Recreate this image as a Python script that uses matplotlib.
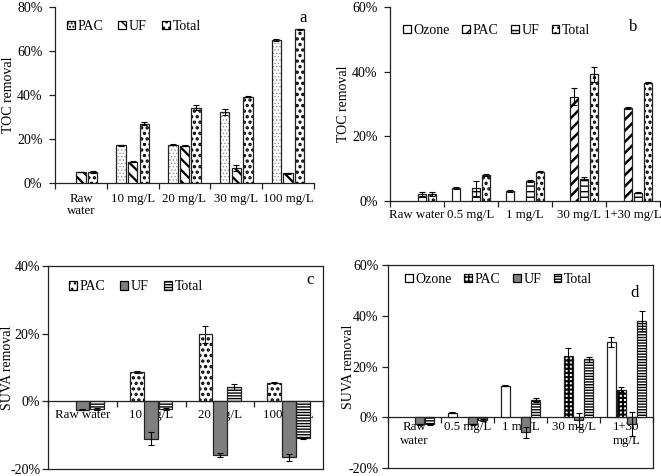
import numpy as np
import matplotlib
matplotlib.use('Agg')
import matplotlib.pyplot as plt
import matplotlib.patches as mpatches
from matplotlib.lines import Line2D
from matplotlib.ticker import FuncFormatter

nan = np.nan
plt.rcParams['font.family'] = ['Liberation Serif', 'DejaVu Serif']
plt.rcParams['font.size'] = 9.5

# ---------------- data ----------------
# Panel a: TOC removal, PAC dose
cats_a = ['Raw\nwater', '10 mg/L', '20 mg/L', '30 mg/L', '100 mg/L']
pac_a = [nan, 17.2, 17.5, 32.2, 65.0]
uf_a = [5.0, 9.7, 16.9, 6.8, 4.4]
tot_a = [5.0, 27.0, 34.3, 39.2, 69.8]
pac_a_err = [nan, 0.3, 0.3, 1.3, 0.3]
uf_a_err = [0.2, 0.2, 0.3, 1.3, 0.2]
tot_a_err = [0.3, 0.6, 1.0, 0.3, 0.3]

# Panel b: TOC removal, ozone dose
cats_b = ['Raw water', '0.5 mg/L', '1 mg/L', '30 mg/L', '1+30 mg/L']
ozone_b = [nan, 4.0, 2.9, nan, nan]
pac_b = [nan, nan, nan, 32.2, 28.6]
uf_b = [2.0, 3.8, 6.0, 6.8, 2.5]
tot_b = [2.0, 8.0, 9.0, 39.2, 36.6]
ozone_b_err = [nan, 0.3, 0.3, nan, nan]
pac_b_err = [nan, nan, nan, 2.6, 0.3]
uf_b_err = [0.6, 2.4, 0.3, 0.5, 0.2]
tot_b_err = [0.6, 0.3, 0.2, 2.3, 0.2]

# Panel c: SUVA removal, PAC dose
cats_c = ['Raw water', '10 mg/L', '20 mg/L', '100 mg/L']
pac_c = [nan, 8.7, 19.8, 5.5]
uf_c = [-2.5, -11.1, -15.8, -16.6]
tot_c = [-2.3, -2.2, 4.2, -10.9]
pac_c_err = [nan, 0.4, 2.6, 0.2]
uf_c_err = [0.2, 1.9, 0.6, 1.0]
tot_c_err = [0.4, 0.3, 0.8, 0.2]

# Panel d: SUVA removal, ozone dose
cats_d = ['Raw\nwater', '0.5 mg/L', '1 mg/L', '30 mg/L', '1+30\nmg/L']
ozone_d = [nan, 1.8, 12.5, nan, 29.5]
pac_d = [nan, nan, nan, 24.1, 10.9]
uf_d = [-2.8, -2.7, -6.0, -1.2, -2.6]
tot_d = [-2.8, -1.0, 6.8, 22.9, 37.8]
ozone_d_err = [nan, 0.2, 0.3, nan, 2.0]
pac_d_err = [nan, nan, nan, 3.3, 1.0]
uf_d_err = [0.2, 0.2, 2.0, 2.8, 4.6]
tot_d_err = [0.2, 0.4, 0.8, 1.0, 3.9]

# ---------------- styles ----------------
ST = {
    'fine_dots': dict(face='white', hatch='.....', hc='#8a8a8a', hlw=0.5),
    'diag_back': dict(face='white', hatch='\\\\\\', hc='black', hlw=1.6),
    'diag_fwd': dict(face='white', hatch='///', hc='black', hlw=1.8),
    'big_dots': dict(face='white', hatch='...', hc='black', hlw=1.6),
    'sparse_dots': dict(face='white', hatch='.', hc='black', hlw=0.5),
    'hlines': dict(face='white', hatch='---', hc='black', hlw=1.0),
    'hlines_dense': dict(face='white', hatch='------', hc='black', hlw=1.0),
    'gray': dict(face='#7f7f7f', hatch=None, hc='#7f7f7f', hlw=1.0),
    'white': dict(face='white', hatch=None, hc='white', hlw=1.0),
    'checker': dict(face='white', hatch='++++', hc='black', hlw=1.5),
}

EDGE = '#222222'


def draw_bars(ax, x, vals, errs, st, w, z=3):
    vals = np.asarray(vals, float)
    errs = np.asarray(errs, float)
    with plt.rc_context({'hatch.linewidth': st['hlw']}):
        b = ax.bar(x, vals, w, color=st['face'], edgecolor=st['hc'],
                   linewidth=0, hatch=st['hatch'], zorder=z)
    for p in b:
        if hasattr(p, 'set_hatch_linewidth'):
            p.set_hatch_linewidth(st['hlw'])
    ax.bar(x, vals, w, fill=False, edgecolor=EDGE, linewidth=0.9, zorder=z + 0.1)
    ax.errorbar(x, vals, yerr=errs, fmt='none', ecolor='black', elinewidth=0.8,
                capsize=2.3, capthick=0.8, zorder=z + 0.2)


def handle(st):
    with plt.rc_context({'hatch.linewidth': min(st['hlw'], 1.2)}):
        p = mpatches.Patch(facecolor=st['face'], edgecolor='black',
                           hatch=st['hatch'], linewidth=0.9)
    if hasattr(p, 'set_hatch_linewidth'):
        p.set_hatch_linewidth(min(st['hlw'], 1.2))
    return p


def pct(v, p):
    return f'{v:.0f}%'


def setup(ax, cats, ylim, yt, ylabel, framed, label_x, xpad, lsp, ypad):
    n = len(cats)
    ax.set_xlim(-0.5, n - 0.5)
    ax.set_ylim(*ylim)
    ax.set_yticks(yt)
    ax.yaxis.set_major_formatter(FuncFormatter(pct))
    ax.set_xticks(range(n))
    ax.set_xticklabels(cats, linespacing=lsp)
    ax.set_xticks(np.arange(-0.5, n, 1.0), minor=True)
    ax.tick_params(axis='x', which='major', length=0, pad=xpad, labelsize=9.3)
    ax.tick_params(axis='x', which='minor', length=4, direction='out',
                   width=0.9, color=EDGE)
    ax.tick_params(axis='y', length=4, direction='out', width=0.9, color=EDGE,
                   labelsize=10, pad=ypad)
    ax.set_ylabel(ylabel, fontsize=10)
    ax.yaxis.set_label_coords(label_x, 0.5)
    for s in ax.spines.values():
        s.set_color(EDGE)
        s.set_linewidth(0.9)
    if framed:
        ax.spines['bottom'].set_position(('data', 0))
        ax.add_line(Line2D([0, 1], [0, 0], transform=ax.transAxes, color=EDGE,
                           lw=0.9, clip_on=False))
    else:
        ax.spines['top'].set_visible(False)
        ax.spines['right'].set_visible(False)


fig = plt.figure(figsize=(6.61, 4.76), dpi=100)

# ---------------- panel a ----------------
ax = fig.add_axes([55 / 661, 1 - 183 / 476, 259 / 661, 176 / 476])
setup(ax, cats_a, (0, 80), [0, 20, 40, 60, 80], 'TOC removal', False, -0.154, 7, 1.05, 5)
x = np.arange(len(cats_a))
w, d = 0.18, 0.225
draw_bars(ax, x - d, pac_a, pac_a_err, ST['fine_dots'], w)
draw_bars(ax, x, uf_a, uf_a_err, ST['diag_back'], w)
draw_bars(ax, x + d, tot_a, tot_a_err, ST['big_dots'], w)
ax.legend([handle(ST['fine_dots']), handle(ST['diag_back']), handle(ST['big_dots'])],
          ['PAC', 'UF', 'Total'], ncol=3, frameon=False, loc='center left',
          bbox_to_anchor=(0.046, 0.89), borderpad=0, borderaxespad=0,
          handlelength=0.55, handleheight=0.55, handletextpad=0.2,
          columnspacing=1.1, fontsize=10)
ax.text(0.957, 0.94, 'a', transform=ax.transAxes, ha='center', va='center', fontsize=12)

# ---------------- panel b ----------------
ax = fig.add_axes([390 / 661, 1 - 200.7 / 476, 270 / 661, 193.7 / 476])
setup(ax, cats_b, (0, 60), [0, 20, 40, 60], 'TOC removal', False, -0.148, 6, 1.05, 5)
x = np.arange(len(cats_b))
w, s = 0.15, 0.185
draw_bars(ax, x - 1.5 * s, ozone_b, ozone_b_err, ST['sparse_dots'], w)
draw_bars(ax, x - 0.5 * s, pac_b, pac_b_err, ST['diag_fwd'], w)
draw_bars(ax, x + 0.5 * s, uf_b, uf_b_err, ST['hlines'], w)
draw_bars(ax, x + 1.5 * s, tot_b, tot_b_err, ST['big_dots'], w)
ax.legend([handle(ST['white']), handle(ST['diag_fwd']), handle(ST['hlines']), handle(ST['big_dots'])],
          ['Ozone', 'PAC', 'UF', 'Total'], ncol=4, frameon=False, loc='center left',
          bbox_to_anchor=(0.048, 0.88), borderpad=0, borderaxespad=0,
          handlelength=0.55, handleheight=0.55, handletextpad=0.2,
          columnspacing=0.9, fontsize=10)
ax.text(0.9, 0.897, 'b', transform=ax.transAxes, ha='center', va='center', fontsize=12)

# ---------------- panel c ----------------
ax = fig.add_axes([48 / 661, 1 - 469 / 476, 275 / 661, 203 / 476])
setup(ax, cats_c, (-20, 40), [-20, 0, 20, 40], 'SUVA removal', True, -0.122, 5.5, 1.05, 1.5)
x = np.arange(len(cats_c))
w, d = 0.2, 0.21
draw_bars(ax, x - d, pac_c, pac_c_err, ST['big_dots'], w)
draw_bars(ax, x, uf_c, uf_c_err, ST['gray'], w)
draw_bars(ax, x + d, tot_c, tot_c_err, ST['hlines_dense'], w)
ax.legend([handle(ST['big_dots']), handle(ST['gray']), handle(ST['hlines_dense'])],
          ['PAC', 'UF', 'Total'], ncol=3, frameon=False, loc='center left',
          bbox_to_anchor=(0.076, 0.897), borderpad=0, borderaxespad=0,
          handlelength=0.55, handleheight=0.55, handletextpad=0.2,
          columnspacing=1.1, fontsize=10)
ax.text(0.953, 0.93, 'c', transform=ax.transAxes, ha='center', va='center', fontsize=12)

# ---------------- panel d ----------------
ax = fig.add_axes([388 / 661, 1 - 468 / 476, 265 / 661, 203 / 476])
setup(ax, cats_d, (-20, 60), [-20, 0, 20, 40, 60], 'SUVA removal', True, -0.125, 3, 1.55, 3)
x = np.arange(len(cats_d))
w, s = 0.16, 0.19
draw_bars(ax, x - 1.5 * s, ozone_d, ozone_d_err, ST['white'], w)
draw_bars(ax, x - 0.5 * s, pac_d, pac_d_err, ST['checker'], w)
draw_bars(ax, x + 0.5 * s, uf_d, uf_d_err, ST['gray'], w)
draw_bars(ax, x + 1.5 * s, tot_d, tot_d_err, ST['hlines_dense'], w)
ax.legend([handle(ST['white']), handle(ST['checker']), handle(ST['gray']), handle(ST['hlines_dense'])],
          ['Ozone', 'PAC', 'UF', 'Total'], ncol=4, frameon=False, loc='center left',
          bbox_to_anchor=(0.064, 0.93), borderpad=0, borderaxespad=0,
          handlelength=0.55, handleheight=0.55, handletextpad=0.2,
          columnspacing=0.9, fontsize=10)
ax.text(0.932, 0.862, 'd', transform=ax.transAxes, ha='center', va='center', fontsize=12)

fig.savefig('out.png', dpi=100)
